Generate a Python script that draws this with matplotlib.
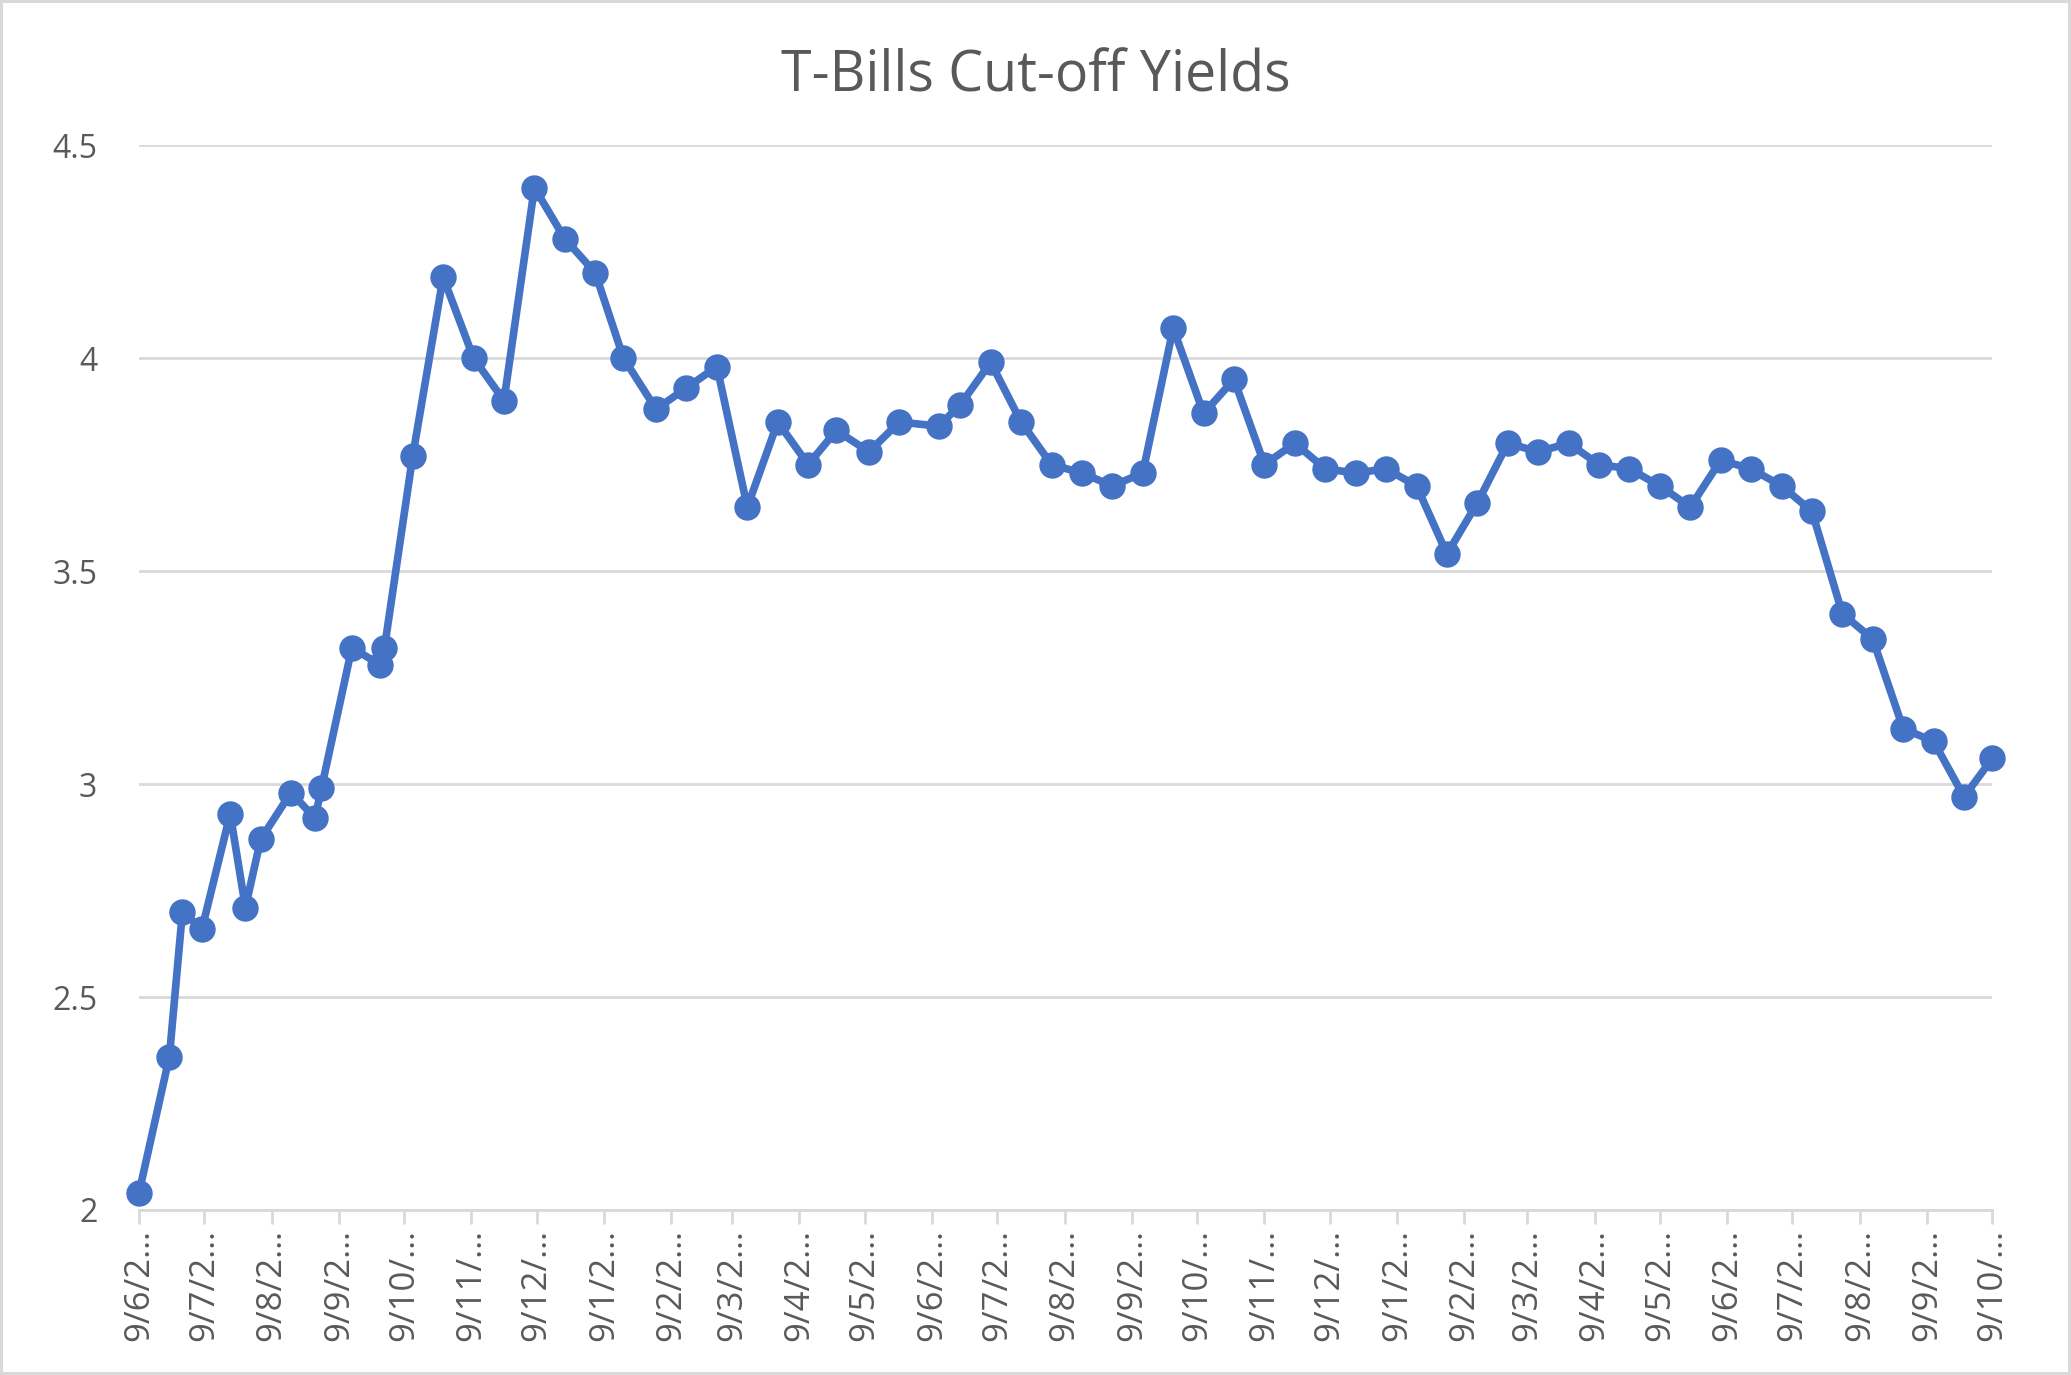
import numpy as np
import pandas as pd
import matplotlib
matplotlib.use("Agg")
import matplotlib.pyplot as plt
import matplotlib.dates as mdates

# auction dates (d/m/yyyy on the axis) and cut-off yields
dates = [
    "2022-06-09", "2022-06-23", "2022-06-29", "2022-07-08", "2022-07-21", "2022-07-28",
    "2022-08-04", "2022-08-18", "2022-08-29", "2022-09-01", "2022-09-15", "2022-09-28",
    "2022-09-30", "2022-10-13", "2022-10-27", "2022-11-10", "2022-11-24", "2022-12-08",
    "2022-12-22", "2023-01-05", "2023-01-18", "2023-02-02", "2023-02-16", "2023-03-02",
    "2023-03-16", "2023-03-30", "2023-04-13", "2023-04-26", "2023-05-11", "2023-05-25",
    "2023-06-12", "2023-06-22", "2023-07-06", "2023-07-20", "2023-08-03", "2023-08-17",
    "2023-08-31", "2023-09-14", "2023-09-28", "2023-10-12", "2023-10-26", "2023-11-09",
    "2023-11-23", "2023-12-07", "2023-12-21", "2024-01-04", "2024-01-18", "2024-02-01",
    "2024-02-15", "2024-02-29", "2024-03-14", "2024-03-28", "2024-04-11", "2024-04-25",
    "2024-05-09", "2024-05-23", "2024-06-06", "2024-06-20", "2024-07-04", "2024-07-18",
    "2024-08-01", "2024-08-15", "2024-08-29", "2024-09-12", "2024-09-26", "2024-10-09",
]
yields = [
    2.04, 2.36, 2.70, 2.66, 2.93, 2.71,
    2.87, 2.98, 2.92, 2.99, 3.32, 3.28,
    3.32, 3.77, 4.19, 4.00, 3.90, 4.40,
    4.28, 4.20, 4.00, 3.88, 3.93, 3.98,
    3.65, 3.85, 3.75, 3.83, 3.78, 3.85,
    3.84, 3.89, 3.99, 3.85, 3.75, 3.73,
    3.70, 3.73, 4.07, 3.87, 3.95, 3.75,
    3.80, 3.74, 3.73, 3.74, 3.70, 3.54,
    3.66, 3.80, 3.78, 3.80, 3.75, 3.74,
    3.70, 3.65, 3.76, 3.74, 3.70, 3.64,
    3.40, 3.34, 3.13, 3.10, 2.97, 3.06,
]

x = pd.to_datetime(dates)

BLUE = "#4472C4"
GRID = "#D9D9D9"
TEXT = "#595959"

fig = plt.figure(figsize=(20.71, 13.75), dpi=100, edgecolor=GRID, linewidth=4)
ax = fig.add_axes([0.0671, 0.120, 0.8949, 0.7745])

ax.plot(x, yields, color=BLUE, linewidth=5.5, marker="o", markersize=18,
        solid_joinstyle="round", zorder=3, clip_on=False)

ax.set_ylim(2, 4.5)
ax.set_yticks(np.arange(2, 4.51, 0.5))
ax.set_yticklabels(["2", "2.5", "3", "3.5", "4", "4.5"])
ax.set_xlim(pd.Timestamp("2022-06-09"), pd.Timestamp("2024-10-09"))

ax.xaxis.set_major_locator(mdates.MonthLocator(bymonthday=9))


def short_label(v, pos=None):
    d = mdates.num2date(v)
    s = f"{d.day}/{d.month}/{d.year}"
    return s[:5] + "\u2026"


ax.xaxis.set_major_formatter(plt.FuncFormatter(short_label))

ax.grid(axis="y", color=GRID, linewidth=2)
ax.set_axisbelow(True)
for side in ["left", "right", "top"]:
    ax.spines[side].set_visible(False)
ax.spines["bottom"].set_color(GRID)
ax.spines["bottom"].set_linewidth(2)

ax.tick_params(axis="y", length=0, pad=30, labelsize=23, labelcolor=TEXT)
ax.tick_params(axis="x", length=10, width=2, color=GRID, pad=4,
               labelsize=25, labelcolor=TEXT, labelrotation=90)
for lab in ax.get_yticklabels() + ax.get_xticklabels():
    lab.set_family("Open Sans")

fig.text(0.5, 0.944, "T-Bills Cut-off Yields", ha="center", va="center",
         fontsize=40, color=TEXT, family="Open Sans")

fig.savefig("out.png", dpi=100)
